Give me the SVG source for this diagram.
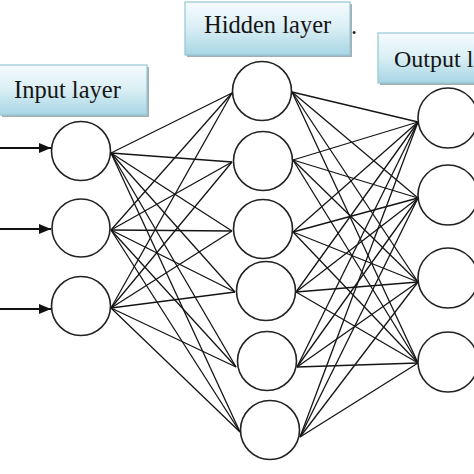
<svg xmlns="http://www.w3.org/2000/svg" width="474" height="474" viewBox="0 0 474 474">
<defs>
<linearGradient id="boxg" x1="0" y1="0" x2="0" y2="1">
<stop offset="0" stop-color="#f5fbfc"/>
<stop offset="0.45" stop-color="#dcf0f5"/>
<stop offset="1" stop-color="#a8d6e4"/>
</linearGradient>
<marker id="ah" viewBox="0 0 12 10" refX="12" refY="5" markerWidth="12" markerHeight="10" markerUnits="userSpaceOnUse" orient="auto">
<path d="M0,0 L12,5 L0,10 Z" fill="#111"/>
</marker>
</defs>
<style>
.box{fill:url(#boxg);stroke:#96c6d4;stroke-width:1.2}
.shadow{fill:#a3afb4}
.lbl{font-family:"Liberation Serif","Times New Roman",serif;font-size:24.5px;fill:#151515}
.node{fill:#fff;stroke:#222;stroke-width:1.6}
.conn line{stroke:#151515;stroke-width:1.3}
.conn line.arr{stroke:#111;stroke-width:2}
</style>
<rect width="474" height="474" fill="#fff"/>

<g id="label-input">
<rect class="shadow" x="2" y="67" width="147" height="50"/>
<rect class="box" x="-1" y="65" width="148" height="50"/>
<text class="lbl" x="14" y="98">Input layer</text>
</g>
<g id="label-hidden">
<rect class="shadow" x="187" y="4" width="165" height="53"/>
<rect class="box" x="185" y="2" width="165" height="53"/>
<text class="lbl" x="204" y="33">Hidden layer</text>
<text class="lbl" x="351" y="34">.</text>
</g>
<g id="label-output">
<rect class="shadow" x="380" y="35" width="100" height="50"/>
<rect class="box" x="378" y="33" width="100" height="50"/>
<text class="lbl" x="394" y="67" style="font-size:24px">Output l</text>
</g>

<g id="connectors" class="conn">
<line class="arr" x1="0" y1="148" x2="51" y2="148" marker-end="url(#ah)"/>
<line class="arr" x1="0" y1="229" x2="51" y2="229" marker-end="url(#ah)"/>
<line class="arr" x1="0" y1="309" x2="51" y2="309" marker-end="url(#ah)"/>
<!-- input to hidden -->
<line x1="111" y1="153" x2="232" y2="93"/>
<line x1="111" y1="153" x2="232" y2="162"/>
<line x1="111" y1="153" x2="232" y2="231"/>
<line x1="111" y1="153" x2="235" y2="292"/>
<line x1="111" y1="153" x2="236" y2="367"/>
<line x1="111" y1="153" x2="240" y2="432"/>
<line x1="111" y1="230" x2="232" y2="93"/>
<line x1="111" y1="230" x2="232" y2="162"/>
<line x1="111" y1="230" x2="232" y2="231"/>
<line x1="111" y1="230" x2="235" y2="292"/>
<line x1="111" y1="230" x2="236" y2="367"/>
<line x1="111" y1="230" x2="240" y2="432"/>
<line x1="111" y1="308" x2="232" y2="93"/>
<line x1="111" y1="308" x2="232" y2="162"/>
<line x1="111" y1="308" x2="232" y2="231"/>
<line x1="111" y1="308" x2="235" y2="292"/>
<line x1="111" y1="308" x2="236" y2="367"/>
<line x1="111" y1="308" x2="240" y2="432"/>
<!-- hidden to output -->
<line x1="292" y1="92" x2="418" y2="122"/>
<line x1="292" y1="92" x2="418" y2="198"/>
<line x1="292" y1="92" x2="418" y2="282"/>
<line x1="292" y1="92" x2="418" y2="363"/>
<line x1="293" y1="160" x2="418" y2="122"/>
<line x1="293" y1="160" x2="418" y2="198"/>
<line x1="293" y1="160" x2="418" y2="282"/>
<line x1="293" y1="160" x2="418" y2="363"/>
<line x1="293" y1="232" x2="418" y2="122"/>
<line x1="293" y1="232" x2="418" y2="198"/>
<line x1="293" y1="232" x2="418" y2="282"/>
<line x1="293" y1="232" x2="418" y2="363"/>
<line x1="296" y1="292" x2="418" y2="122"/>
<line x1="296" y1="292" x2="418" y2="198"/>
<line x1="296" y1="292" x2="418" y2="282"/>
<line x1="296" y1="292" x2="418" y2="363"/>
<line x1="297" y1="367" x2="418" y2="122"/>
<line x1="297" y1="367" x2="418" y2="198"/>
<line x1="297" y1="367" x2="418" y2="282"/>
<line x1="297" y1="367" x2="418" y2="363"/>
<line x1="300" y1="437" x2="418" y2="122"/>
<line x1="300" y1="437" x2="418" y2="198"/>
<line x1="300" y1="437" x2="418" y2="282"/>
<line x1="300" y1="437" x2="418" y2="363"/>
</g>

<g id="input-1"><circle class="node" cx="81" cy="151" r="29.5"/></g>
<g id="input-2"><circle class="node" cx="81" cy="228" r="29"/></g>
<g id="input-3"><circle class="node" cx="81" cy="306" r="29.5"/></g>

<g id="hidden-1"><circle class="node" cx="262" cy="91" r="29.5"/></g>
<g id="hidden-2"><circle class="node" cx="263" cy="161" r="29.5"/></g>
<g id="hidden-3"><circle class="node" cx="263" cy="229" r="29.5"/></g>
<g id="hidden-4"><circle class="node" cx="266" cy="291" r="29.5"/></g>
<g id="hidden-5"><circle class="node" cx="267" cy="361" r="29.5"/></g>
<g id="hidden-6"><circle class="node" cx="270" cy="430" r="29.5"/></g>

<g id="output-1"><circle class="node" cx="448" cy="118" r="30"/></g>
<g id="output-2"><circle class="node" cx="448" cy="195" r="30"/></g>
<g id="output-3"><circle class="node" cx="448" cy="278" r="30"/></g>
<g id="output-4"><circle class="node" cx="448" cy="362" r="30"/></g>
</svg>
